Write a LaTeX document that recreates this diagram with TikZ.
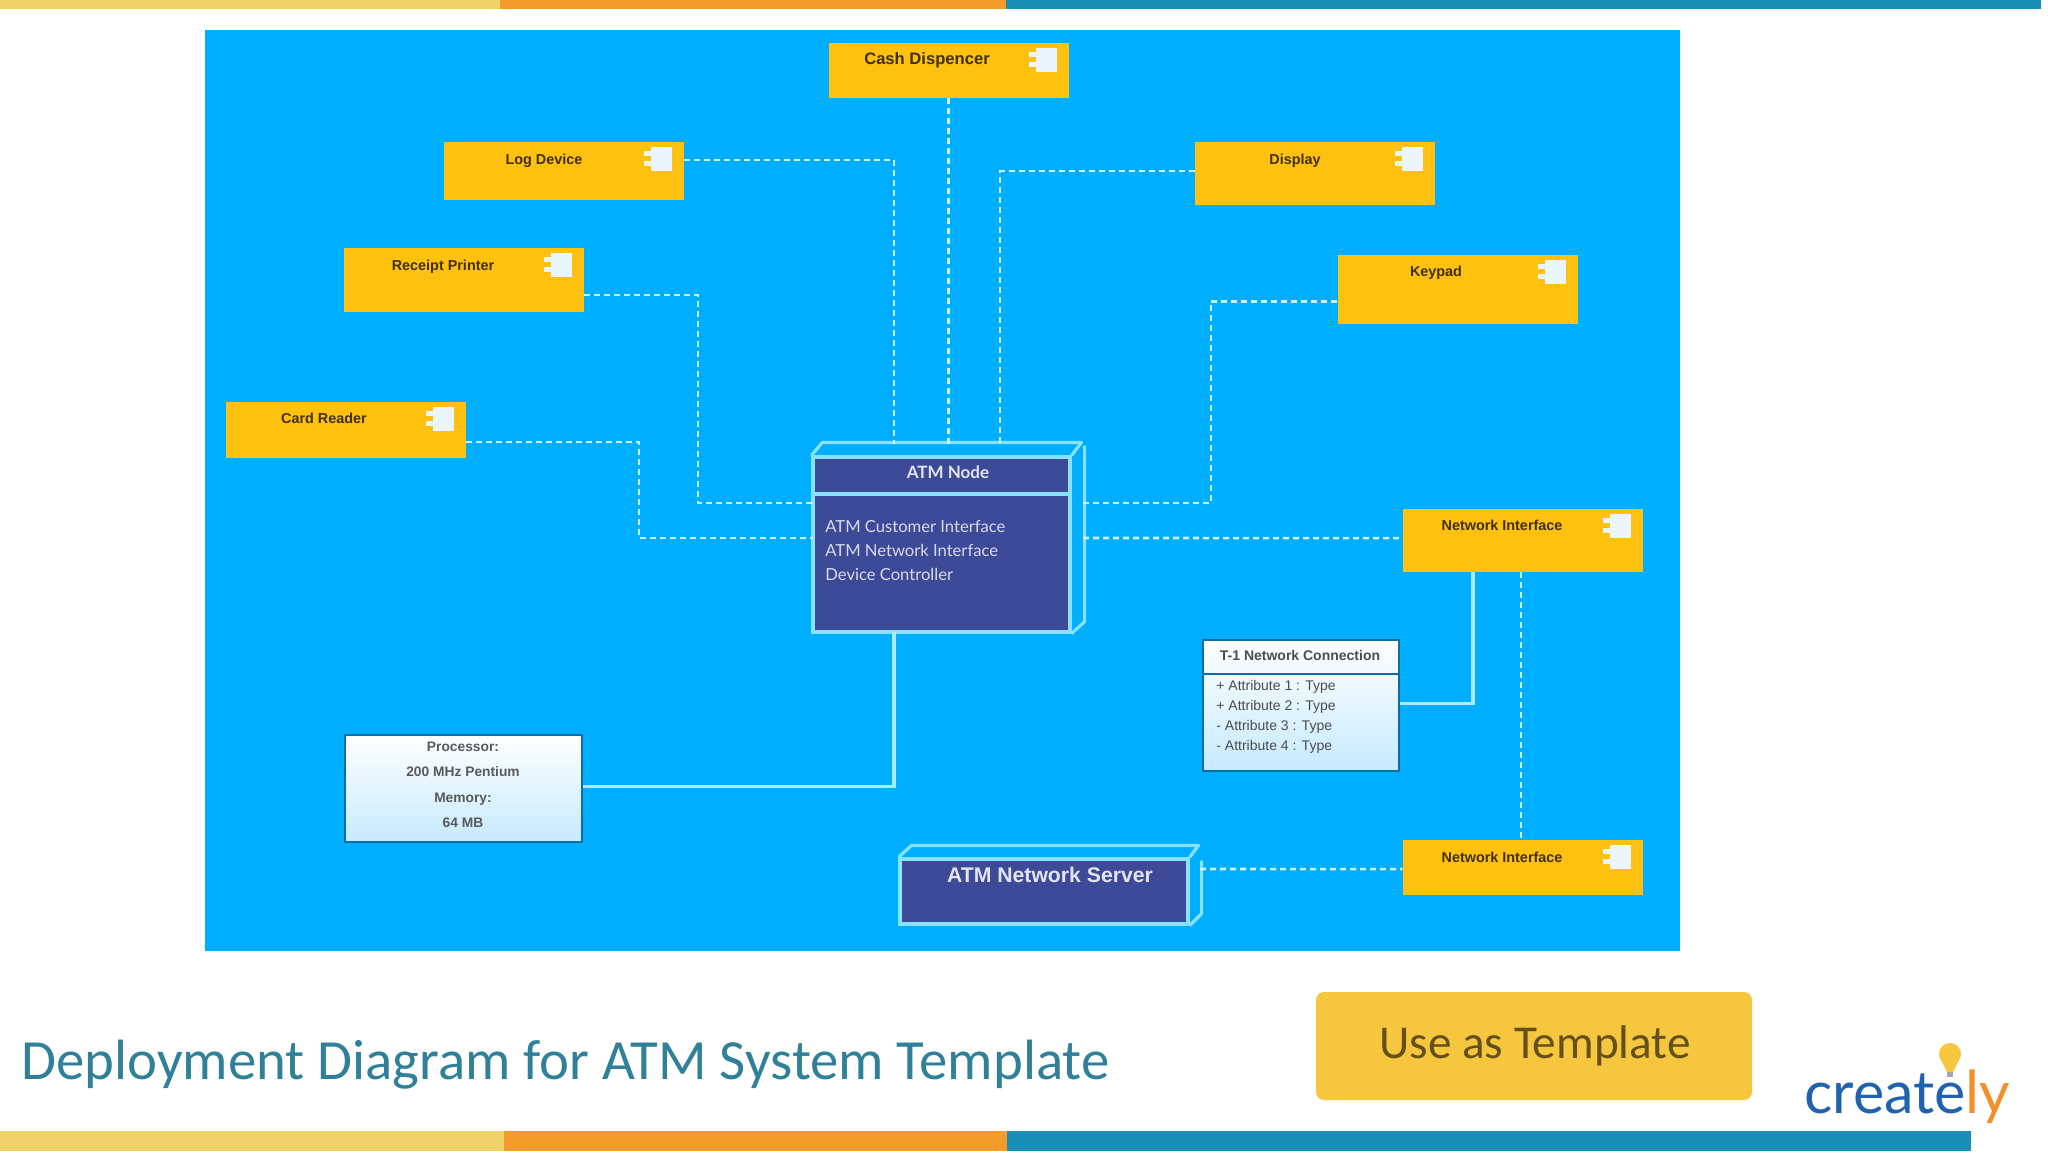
\documentclass[tikz,border=0pt]{standalone}
\usepackage{fontspec}
\setmainfont{Carlito}
\newfontfamily\labelfont{Liberation Sans}
\newfontfamily\nodefont{Lato}
\definecolor{skybg}{HTML}{00AEFF}
\definecolor{compyellow}{HTML}{FFC10F}
\definecolor{nodeblue}{HTML}{3D4A98}
\definecolor{edgecyan}{HTML}{86E2FF}
\definecolor{linkdash}{HTML}{CDF3FF}
\definecolor{boxline}{HTML}{0B6CA6}
\definecolor{boxfade}{HTML}{C6EAFF}
\definecolor{barblue}{HTML}{1A8DB6}
\definecolor{barorange}{HTML}{F49B2C}
\definecolor{baryellow}{HTML}{EFD268}
\definecolor{titleteal}{HTML}{2F8098}
\definecolor{btnyellow}{HTML}{F6C63F}
\definecolor{logoblue}{HTML}{1F62AE}
\definecolor{logoorange}{HTML}{F4902A}
\definecolor{iconpale}{HTML}{EAF6FB}
\tikzset{
  comp/.style={fill=compyellow,minimum width=120pt,inner sep=0pt},
  comptext/.style={font=\labelfont\bfseries\fontsize{7.2}{9}\selectfont,text=black!75!compyellow,inner sep=0pt},
  nodebox/.style={draw=edgecyan,line width=1.6pt,fill=nodeblue,inner sep=0pt},
  nodeedge/.style={draw=edgecyan,line width=1.6pt,line join=round},
  dashlink/.style={draw=linkdash,line width=1.3pt,dash pattern=on 3pt off 2pt},
  solidlink/.style={draw=edgecyan!70!white,line width=1.6pt},
  specbox/.style={draw=boxline,line width=1.4pt,top color=white,bottom color=boxfade,inner sep=0pt},
  spectext/.style={font=\labelfont\fontsize{7}{8}\selectfont,text=black!70,inner sep=0pt},
  proctext/.style={font=\labelfont\bfseries\fontsize{6.9}{8}\selectfont,text=black!65,inner sep=0pt},
  compicon/.pic={
    \fill[iconpale] (-33,5) rectangle (-12,29);
    \fill[iconpale] (-40,9) rectangle (-32,14);
    \fill[iconpale] (-40,19) rectangle (-32,24);
  }
}
\begin{document}
\begin{tikzpicture}[x=0.5pt,y=-0.5pt]
\useasboundingbox (0,0) rectangle (2048,1152);

%bars
\fill[baryellow] (0,0) rectangle (500,9);
\fill[barorange] (500,0) rectangle (1006,9);
\fill[barblue] (1006,0) rectangle (2041,9);
\fill[baryellow] (0,1131) rectangle (504,1151);
\fill[barorange] (504,1131) rectangle (1007,1151);
\fill[barblue] (1007,1131) rectangle (1971,1151);

%background
\fill[skybg] (205,30) rectangle (1680,951);

%components
\node[comp,minimum height=27.5pt] (cash) at (948.5,70.5) {};
\node[comp,minimum height=29pt] (logdev) at (564,171) {};
\node[comp,minimum height=31.5pt] (display) at (1315,173.5) {};
\node[comp,minimum height=32pt] (printer) at (463.5,280) {};
\node[comp,minimum height=34.5pt] (keypad) at (1457.5,289.5) {};
\node[comp,minimum height=28pt] (reader) at (346,430) {};
\node[comp,minimum height=31.5pt] (netone) at (1523,540.5) {};
\node[comp,minimum height=27.5pt] (nettwo) at (1523,867.5) {};

\node[comptext,font=\labelfont\bfseries\fontsize{8.3}{10}\selectfont] (cashtxt) at (927,60) {Cash Dispencer};
\node[comptext] (logtxt) at (544,161) {Log Device};
\node[comptext] (disptxt) at (1295,161) {Display};
\node[comptext] (printtxt) at (443,267) {Receipt Printer};
\node[comptext] (keytxt) at (1436,273) {Keypad};
\node[comptext] (readtxt) at (324,418) {Card Reader};
\node[comptext] (netonetxt) at (1502,525) {Network Interface};
\node[comptext] (nettwotxt) at (1502,857) {Network Interface};

\foreach \n in {cash,logdev,display,printer,keypad,reader,netone,nettwo}
  \pic at (\n.north east) {compicon};

%ATM node
\node[nodebox,minimum width=128.5pt,minimum height=87.5pt] (atm) at (941.5,544.5) {};
\draw[nodeedge] (atm.north west) -- ++(11,-13) -- ++(259,0) -- (atm.north east);
\draw[nodeedge] (atm.south east) -- ++(13,-12) -- ++(0,-176);
\draw[nodeedge] (atm.west |- 0,494) -- (atm.east |- 0,494);
\node[font=\nodefont\bfseries\fontsize{8.5}{10}\selectfont,text=white!85!nodeblue,inner sep=0pt] (atmtxt) at (948,472) {ATM Node};
\node[font=\nodefont\fontsize{8.3}{12}\selectfont,text=white!80!nodeblue,align=left,inner sep=0pt,anchor=north west] (atmlist) at (825,520)
  {ATM Customer Interface\\ATM Network Interface\\Device Controller};

\coordinate (atmtopa) at (894,444);
\coordinate (atmtopb) at (1000,444);
\coordinate (atmla) at (813,503);
\coordinate (atmlb) at (813,538);
\coordinate (atmra) at (1083,503);
\coordinate (atmrb) at (1083,538);
\coordinate (atmbot) at (894,632);

%server
\node[nodebox,minimum width=144pt,minimum height=32.5pt] (server) at (1044,891.5) {};
\draw[nodeedge] (server.north west) -- ++(13,-12) -- ++(287,0) -- (server.north east);
\draw[nodeedge] (server.south east) -- ++(12,-12) -- ++(0,-53);
\node[font=\labelfont\bfseries\fontsize{10.6}{12}\selectfont,text=white!85!nodeblue,inner sep=0pt] (servertxt) at (1050,875) {ATM Network Server};
\coordinate (serverr) at (1200,869);

%processor
\node[specbox,minimum width=118.5pt,minimum height=53.5pt] (proc) at (463.5,788.5) {};
\node[proctext] (proctxta) at (463,747) {Processor:};
\node[proctext] (proctxtb) at (463,772) {200 MHz Pentium};
\node[proctext] (proctxtc) at (463,799) {Memory:};
\node[proctext] (proctxtd) at (463,823) {64 MB};

%T-1
\node[specbox,minimum width=98pt,minimum height=65.5pt] (tone) at (1301,705.5) {};
\draw[boxline,line width=1.4pt] (tone.west |- 0,674) -- (tone.east |- 0,674);
\node[font=\labelfont\bfseries\fontsize{7}{9}\selectfont,text=black!70,inner sep=0pt] (tonetxt) at (1300,655) {T-1 Network Connection};
\node[spectext,anchor=west] (attra) at (1216,687) {+ Attribute 1 : Type};
\node[spectext,anchor=west] (attrb) at (1216,707) {+ Attribute 2 : Type};
\node[spectext,anchor=west] (attrc) at (1216,727) {- Attribute 3 : Type};
\node[spectext,anchor=west] (attrd) at (1216,747) {- Attribute 4 : Type};

%dashed links
\draw[dashlink] (cash.south) -- (cash.south |- atmtopa);
\draw[dashlink] ([yshift=5.5pt]logdev.east) -| (atmtopa);
\draw[dashlink] ([yshift=1.2pt]display.west) -| (atmtopb);
\draw[dashlink] ([yshift=-7.5pt]printer.east) -| (698,503) -- (atmla);
\draw[dashlink] ([yshift=-6pt]reader.east) -| (639,538) -- (atmlb);
\draw[dashlink] ([yshift=-6pt]keypad.west) -| (1211,503) -- (atmra);
\draw[dashlink] (atmrb) -- ([yshift=1.2pt]netone.west);
\draw[dashlink] (netone.south -| 1521,0) -- (nettwo.north -| 1521,0);
\draw[dashlink] (serverr) -- ([yshift=-0.8pt]nettwo.west);

%solid links
\draw[solidlink] (atmbot) |- ([yshift=1pt]proc.east);
\draw[solidlink] ([yshift=1pt]tone.east) -| (netone.south -| 1473,0);

%footer
\node[font=\fontsize{28.4}{32}\selectfont,text=titleteal,anchor=west,inner sep=0pt] (title) at (21,1065) {Deployment Diagram for ATM System Template};
\node[fill=btnyellow,rounded corners=4pt,minimum width=218pt,minimum height=54pt,inner sep=0pt] (button) at (1534,1046) {};
\node[font=\fontsize{23.6}{28}\selectfont,text=black!55!btnyellow!90!black,inner sep=0pt] (buttontxt) at (1535,1046) {Use as Template};
\node[font=\nodefont\fontsize{29.6}{34}\selectfont,text=logoblue,anchor=base west,inner sep=0pt] (logo) at (1804,1113) {create\textcolor{logoorange}{ly}};

%bulb
\fill[btnyellow] (1950,1054) circle (5.5pt);
\fill[btnyellow] (1941,1060) -- (1959,1060) -- (1953,1072) -- (1947,1072) -- cycle;
\fill[gray!70] (1947,1072) rectangle (1953,1077);

\end{tikzpicture}
\end{document}
